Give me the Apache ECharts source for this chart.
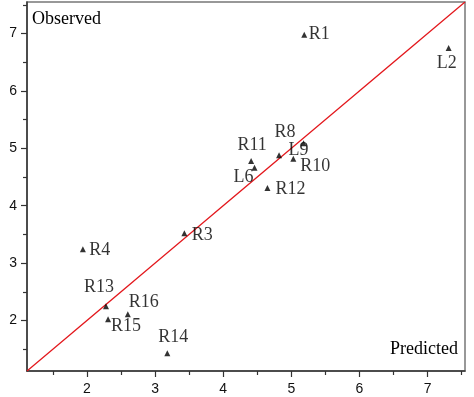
<!DOCTYPE html>
<html>
<head>
<meta charset="utf-8">
<script src="https://cdn.jsdelivr.net/npm/echarts@6/dist/echarts.min.js"></script>
<style>
  html, body { margin: 0; padding: 0; background: #fff; }
  #main { width: 474px; height: 397px; }
</style>
</head>
<body>
<div id="main"></div>
<script>
// compounds, predicted (x) and observed (y)
var names     = ['R1', 'L2', 'R3', 'R4', 'L6', 'R8', 'L9', 'R10', 'R11', 'R12', 'R13', 'R14', 'R15', 'R16'];
var predicted = [5.19, 7.31, 3.43, 1.94, 4.46, 4.82, 5.18, 5.03, 4.41, 4.65, 2.28, 3.18, 2.31, 2.60];
var observed  = [6.98, 6.75, 3.52, 3.24, 4.66, 4.88, 5.09, 4.82, 4.78, 4.31, 2.25, 1.43, 2.02, 2.11];

var majorTicks = [2, 3, 4, 5, 6, 7];
var minorTicks = [1.5, 2.5, 3.5, 4.5, 5.5, 6.5, 7.5];
var axisMin = 1.12, axisMax = 7.55;
var lineEnds = [axisMin, axisMax];   // y = x reference line

// where each label sits relative to its triangle
var labelOffset = {
  R1: [15, 0], L2: [-2, 15], R3: [18, 2], R4: [17, 1],
  L6: [-11, 9], R8: [6, -23], L9: [-5, 7], R10: [22, 8],
  R11: [1, -16], R12: [23, 1], R13: [-7, -19], R14: [6, -16],
  R15: [18, 7], R16: [16, -12]
};

var pts = names.map(function (n, i) {
  return {
    value: [predicted[i], observed[i]],
    name: n,
    label: { offset: labelOffset[n] }
  };
});

var chart = echarts.init(document.getElementById('main'), null, { renderer: 'canvas' });

function mkAxis(major, isX) {
  return {
    type: 'value',
    min: axisMin,
    max: axisMax,
    position: isX ? 'bottom' : 'left',
    axisLine: { show: major, lineStyle: { color: '#333', width: 1.5 } },
    axisTick: {
      show: true,
      inside: false,
      length: major ? 6 : 4,
      customValues: major ? majorTicks : minorTicks,
      lineStyle: { color: '#333', width: 1.2 }
    },
    axisLabel: {
      show: major,
      customValues: majorTicks,
      margin: isX ? 11 : 10,
      color: '#111',
      fontFamily: 'Liberation Sans, Arial, sans-serif',
      fontSize: 14
    },
    splitLine: { show: false }
  };
}

var option = {
  animation: false,
  backgroundColor: '#fff',
  grid: {
    left: 27, right: 9, top: 2, bottom: 26,
    show: true,
    borderColor: '#777',
    borderWidth: 1.5
  },
  xAxis: [mkAxis(true, true), mkAxis(false, true)],
  yAxis: [mkAxis(true, false), mkAxis(false, false)],
  series: [
    {
      type: 'line',
      data: [[lineEnds[0], lineEnds[0]], [lineEnds[1], lineEnds[1]]],
      symbol: 'none',
      lineStyle: { color: '#e3171c', width: 1.3 },
      silent: true
    },
    {
      type: 'scatter',
      data: pts,
      symbol: 'triangle',
      symbolSize: 6,
      itemStyle: { color: '#000' },
      label: {
        show: true,
        position: 'inside',
        formatter: '{b}',
        color: '#000',
        fontFamily: 'Liberation Serif, Times New Roman, serif',
        fontSize: 18,
        align: 'center',
        verticalAlign: 'middle'
      },
      z: 3
    }
  ],
  graphic: [
    {
      type: 'text', left: 32, top: 10,
      style: { text: 'Observed', fill: '#000', font: '18px "Liberation Serif", serif' }
    },
    {
      type: 'text', right: 16, top: 340,
      style: { text: 'Predicted', fill: '#000', font: '18px "Liberation Serif", serif' }
    }
  ]
};

chart.setOption(option);
</script>
</body>
</html>
